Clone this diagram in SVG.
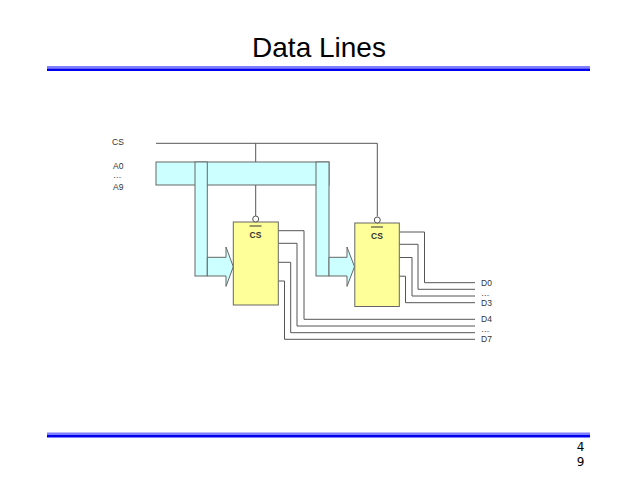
<svg xmlns="http://www.w3.org/2000/svg" width="638" height="478" viewBox="0 0 638 478">
<style>
.t{font-family:"Liberation Sans",Arial,sans-serif;fill:#333;font-size:8.5px}
.w{fill:none;stroke:#555;stroke-width:1}
.bus{fill:#ccffff;stroke:#666;stroke-width:1}
.chip{fill:#ffff99;stroke:#666;stroke-width:1}
.bub{fill:#fff;stroke:#555;stroke-width:1}
</style>
<rect width="638" height="478" fill="#fff"/>
<text x="319" y="57" text-anchor="middle" style="font-family:'Liberation Sans',Arial,sans-serif;font-size:28px;fill:#000">Data Lines</text>
<rect x="47" y="66" width="543" height="2.5" fill="#8080ff"/>
<rect x="47" y="68.5" width="543" height="2.5" fill="#0000ee"/>
<rect x="47" y="432.5" width="543" height="2.5" fill="#8080ff"/>
<rect x="47" y="435" width="543" height="2.5" fill="#0000ee"/>
<text x="580.5" y="450.5" text-anchor="middle" style="font-family:'DejaVu Sans',sans-serif;font-size:12px;fill:#000">4</text>
<text x="580.5" y="466" text-anchor="middle" style="font-family:'DejaVu Sans',sans-serif;font-size:12px;fill:#000">9</text>
<g id="labels">
<text class="t" x="112" y="145">CS</text>
<text class="t" x="113" y="168.5">A0</text>
<text class="t" x="113" y="178">…</text>
<text class="t" x="113" y="190">A9</text>
</g>
<g id="connectors">
<path class="w" d="M156,143.3H377.3V216.5M255.7,143.3V216"/>
<path class="w" d="M278.3,230.7H304V319.3H475M278.3,243.3H297V326H475M278.3,262.3H290.7V332.7H475M278.3,281H284.5V339.3H475"/>
<path class="w" d="M399.3,232H424.5V282.7H475M399.3,244.3H418V289.3H475M399.3,257.5H412V296H475M399.3,276.2H405.5V302.7H475"/>
</g>
<g id="bus">
<rect class="bus" x="156" y="162" width="173" height="23"/>
<rect class="bus" x="195" y="162" width="12.3" height="114"/>
<rect class="bus" x="316" y="162" width="13" height="114"/>
<polygon class="bus" points="207.3,257.3 226,257.3 226,247 233.3,266.7 226,286.4 226,276 207.3,276"/>
<polygon class="bus" points="329,257.3 347,257.3 347,247 354.5,266.7 347,286.4 347,276 329,276"/>
</g>
<g id="chip1">
<rect class="chip" x="233.3" y="222" width="45" height="83"/>
<circle class="bub" cx="255.7" cy="219" r="3"/>
<text class="t" x="255.5" y="237.5" text-anchor="middle" style="font-weight:bold">CS</text>
<line x1="249.5" y1="226" x2="261.5" y2="226" stroke="#333" stroke-width="1"/>
</g>
<g id="chip2">
<rect class="chip" x="354.8" y="223" width="44.5" height="83.5"/>
<circle class="bub" cx="377.3" cy="220" r="3"/>
<text class="t" x="377" y="238.5" text-anchor="middle" style="font-weight:bold">CS</text>
<line x1="371" y1="227" x2="383" y2="227" stroke="#333" stroke-width="1"/>
</g>
<g id="outputs">
<text class="t" x="481" y="285.8">D0</text>
<text class="t" x="481" y="295.5">…</text>
<text class="t" x="481" y="305.8">D3</text>
<text class="t" x="481" y="322.4">D4</text>
<text class="t" x="481" y="331.8">…</text>
<text class="t" x="481" y="342.4">D7</text>
</g>
</svg>
